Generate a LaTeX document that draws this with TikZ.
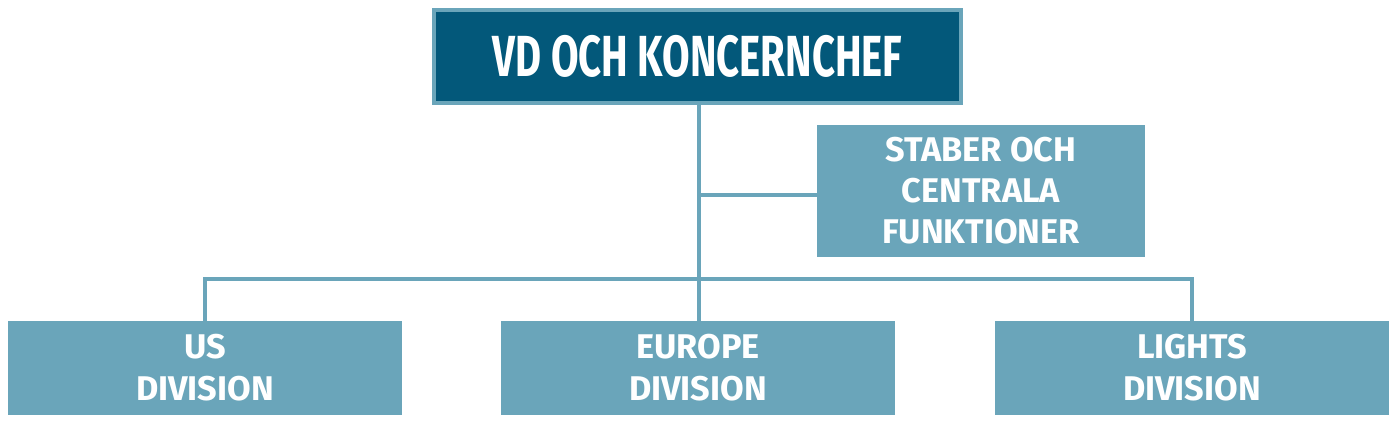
\documentclass[tikz,border=0pt]{standalone}
\usepackage{fontspec}
\setmainfont{Fira Sans}
\usetikzlibrary{positioning}
\definecolor{darkteal}{HTML}{03587A}
\definecolor{lightteal}{HTML}{6AA5BA}
\tikzset{
  chief/.style    = {rectangle, draw=lightteal, line width=0.08cm, fill=darkteal,
                     text=white, minimum width=10.54cm, minimum height=1.86cm,
                     inner sep=0pt, align=center,
                     font=\fontsize{33}{36}\selectfont\bfseries},
  staff/.style    = {rectangle, fill=lightteal, text=white,
                     minimum width=6.56cm, minimum height=2.64cm, inner sep=0pt,
                     align=center, font=\fontsize{19.5}{23.3}\selectfont\bfseries},
  division/.style = {rectangle, fill=lightteal, text=white,
                     minimum width=7.88cm, minimum height=1.88cm, inner sep=0pt,
                     align=center, font=\fontsize{19.5}{23.8}\selectfont\bfseries},
  link/.style     = {draw=lightteal, line width=0.08cm},
}
\begin{document}
\begin{tikzpicture}[x=0.02cm, y=-0.02cm]

    \useasboundingbox (0,0) rectangle (1398,424);

    % ── Top: group management ─────────────────────────────────────
    \node[chief] (vd) at (697.5,56.5)
      {\scalebox{0.69}[1]{VD OCH KONCERNCHEF}};

    \node[staff] (staber) at (981,191)
      {STABER OCH\\ CENTRALA\\ FUNKTIONER};

    % ── Bottom row: divisions ─────────────────────────────────────
    \node[division] (us)     at (205,368)  {US\\ DIVISION};
    \node[division] (europe) at (698,368)  {EUROPE\\ DIVISION};
    \node[division] (lights) at (1192,368) {LIGHTS\\ DIVISION};

    \coordinate (bus) at (699,279);

    % ── Lines ─────────────────────────────────────────────────────
    \draw[link] (vd.south -| bus) -- (europe.north -| bus);
    \draw[link] (staber.west |- 0,195) -- (bus |- 0,195);
    \draw[link] (us.north) |- (bus) -| (lights.north);

  \end{tikzpicture}
\end{document}
